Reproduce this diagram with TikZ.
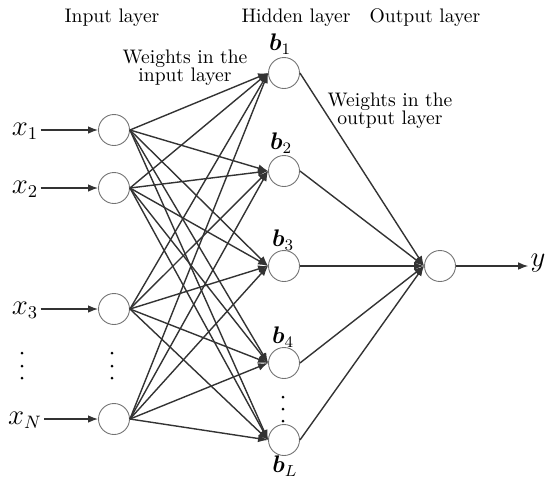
\documentclass[tikz,border=0pt]{standalone}
\usepackage{amsmath,bm}
\usetikzlibrary{arrows.meta}
\begin{document}
\begin{tikzpicture}[x=0.5pt,y=-0.5pt,
  neuron/.style={circle, draw=black!55, line width=0.45pt, minimum size=15.5pt, inner sep=0pt},
  conn/.style={draw=black!80, line width=0.7pt, -{Latex[length=5pt,width=3.8pt]}},
  title/.style={font=\fontsize{9.8}{11}\selectfont, text=black},
  wlabel/.style={font=\fontsize{9.8}{11}\selectfont, align=center, text=black},
  xlab/.style={font=\fontsize{13.5}{15}\selectfont, inner sep=1pt},
  blab/.style={font=\fontsize{11.5}{13}\selectfont, inner sep=1pt},
  dot/.style={circle, fill=black, inner sep=0pt, minimum size=1.5pt}]
\useasboundingbox (0,0) rectangle (550,489);
% titles
\node[title] (tin) at (112,18) {Input layer};
\node[title] (thid) at (296,18) {Hidden layer};
\node[title] (tout) at (425,18) {Output layer};
\node[wlabel] (win) at (185,68) {Weights in the\\[-2pt] input layer};
\node[wlabel] (wout) at (390,111) {Weights in the\\[-2pt] output layer};
% input nodes
\node[neuron] (i1) at (114,130) {};
\node[neuron] (i2) at (114,188) {};
\node[neuron] (i3) at (114,309) {};
\node[neuron] (i4) at (114,419) {};
% hidden nodes
\node[neuron] (h1) at (284,73) {};
\node[neuron] (h2) at (284,171) {};
\node[neuron] (h3) at (284,266) {};
\node[neuron] (h4) at (284,363) {};
\node[neuron] (h5) at (284,440) {};
% output node
\node[neuron] (o) at (440,266) {};
% input labels
\node[xlab] (x1) at (25,131) {$x_1$};
\node[xlab] (x2) at (25,189) {$x_2$};
\node[xlab] (x3) at (25,310) {$x_3$};
\node[xlab] (x4) at (25,420) {$x_N$};
\node[xlab] (y) at (538,263) {$y$};
% bias labels
\node[blab] (b1) at (280,44) {$\bm{b}_1$};
\node[blab] (b2) at (281,143) {$\bm{b}_2$};
\node[blab] (b3) at (283,240) {$\bm{b}_3$};
\node[blab] (b4) at (283,337) {$\bm{b}_4$};
\node[blab] (b5) at (285,466) {$\bm{b}_L$};
% dots
\foreach \yy [count=\k] in {353,366,378} {
  \node[dot] (da\k) at (22,\yy) {};
  \node[dot] (db\k) at (112,\yy) {};
}
\foreach \yy [count=\k] in {397,409,421} {
  \node[dot] (dc\k) at (283,\yy) {};
}
% input arrows
\foreach \k in {1,2,3,4} {
  \draw[conn] (i\k.west -| x\k.east) -- (i\k.west);
}
% input to hidden
\foreach \a in {1,2,3,4} {
  \foreach \b in {1,2,3,4,5} {
    \draw[conn] (i\a.east) -- (h\b.west);
  }
}
% hidden to output
\foreach \b in {1,2,3,4,5} {
  \draw[conn] (h\b.east) -- (o.west);
}
\draw[conn] (o.east) -- (o.east -| y.west);
\end{tikzpicture}
\end{document}
